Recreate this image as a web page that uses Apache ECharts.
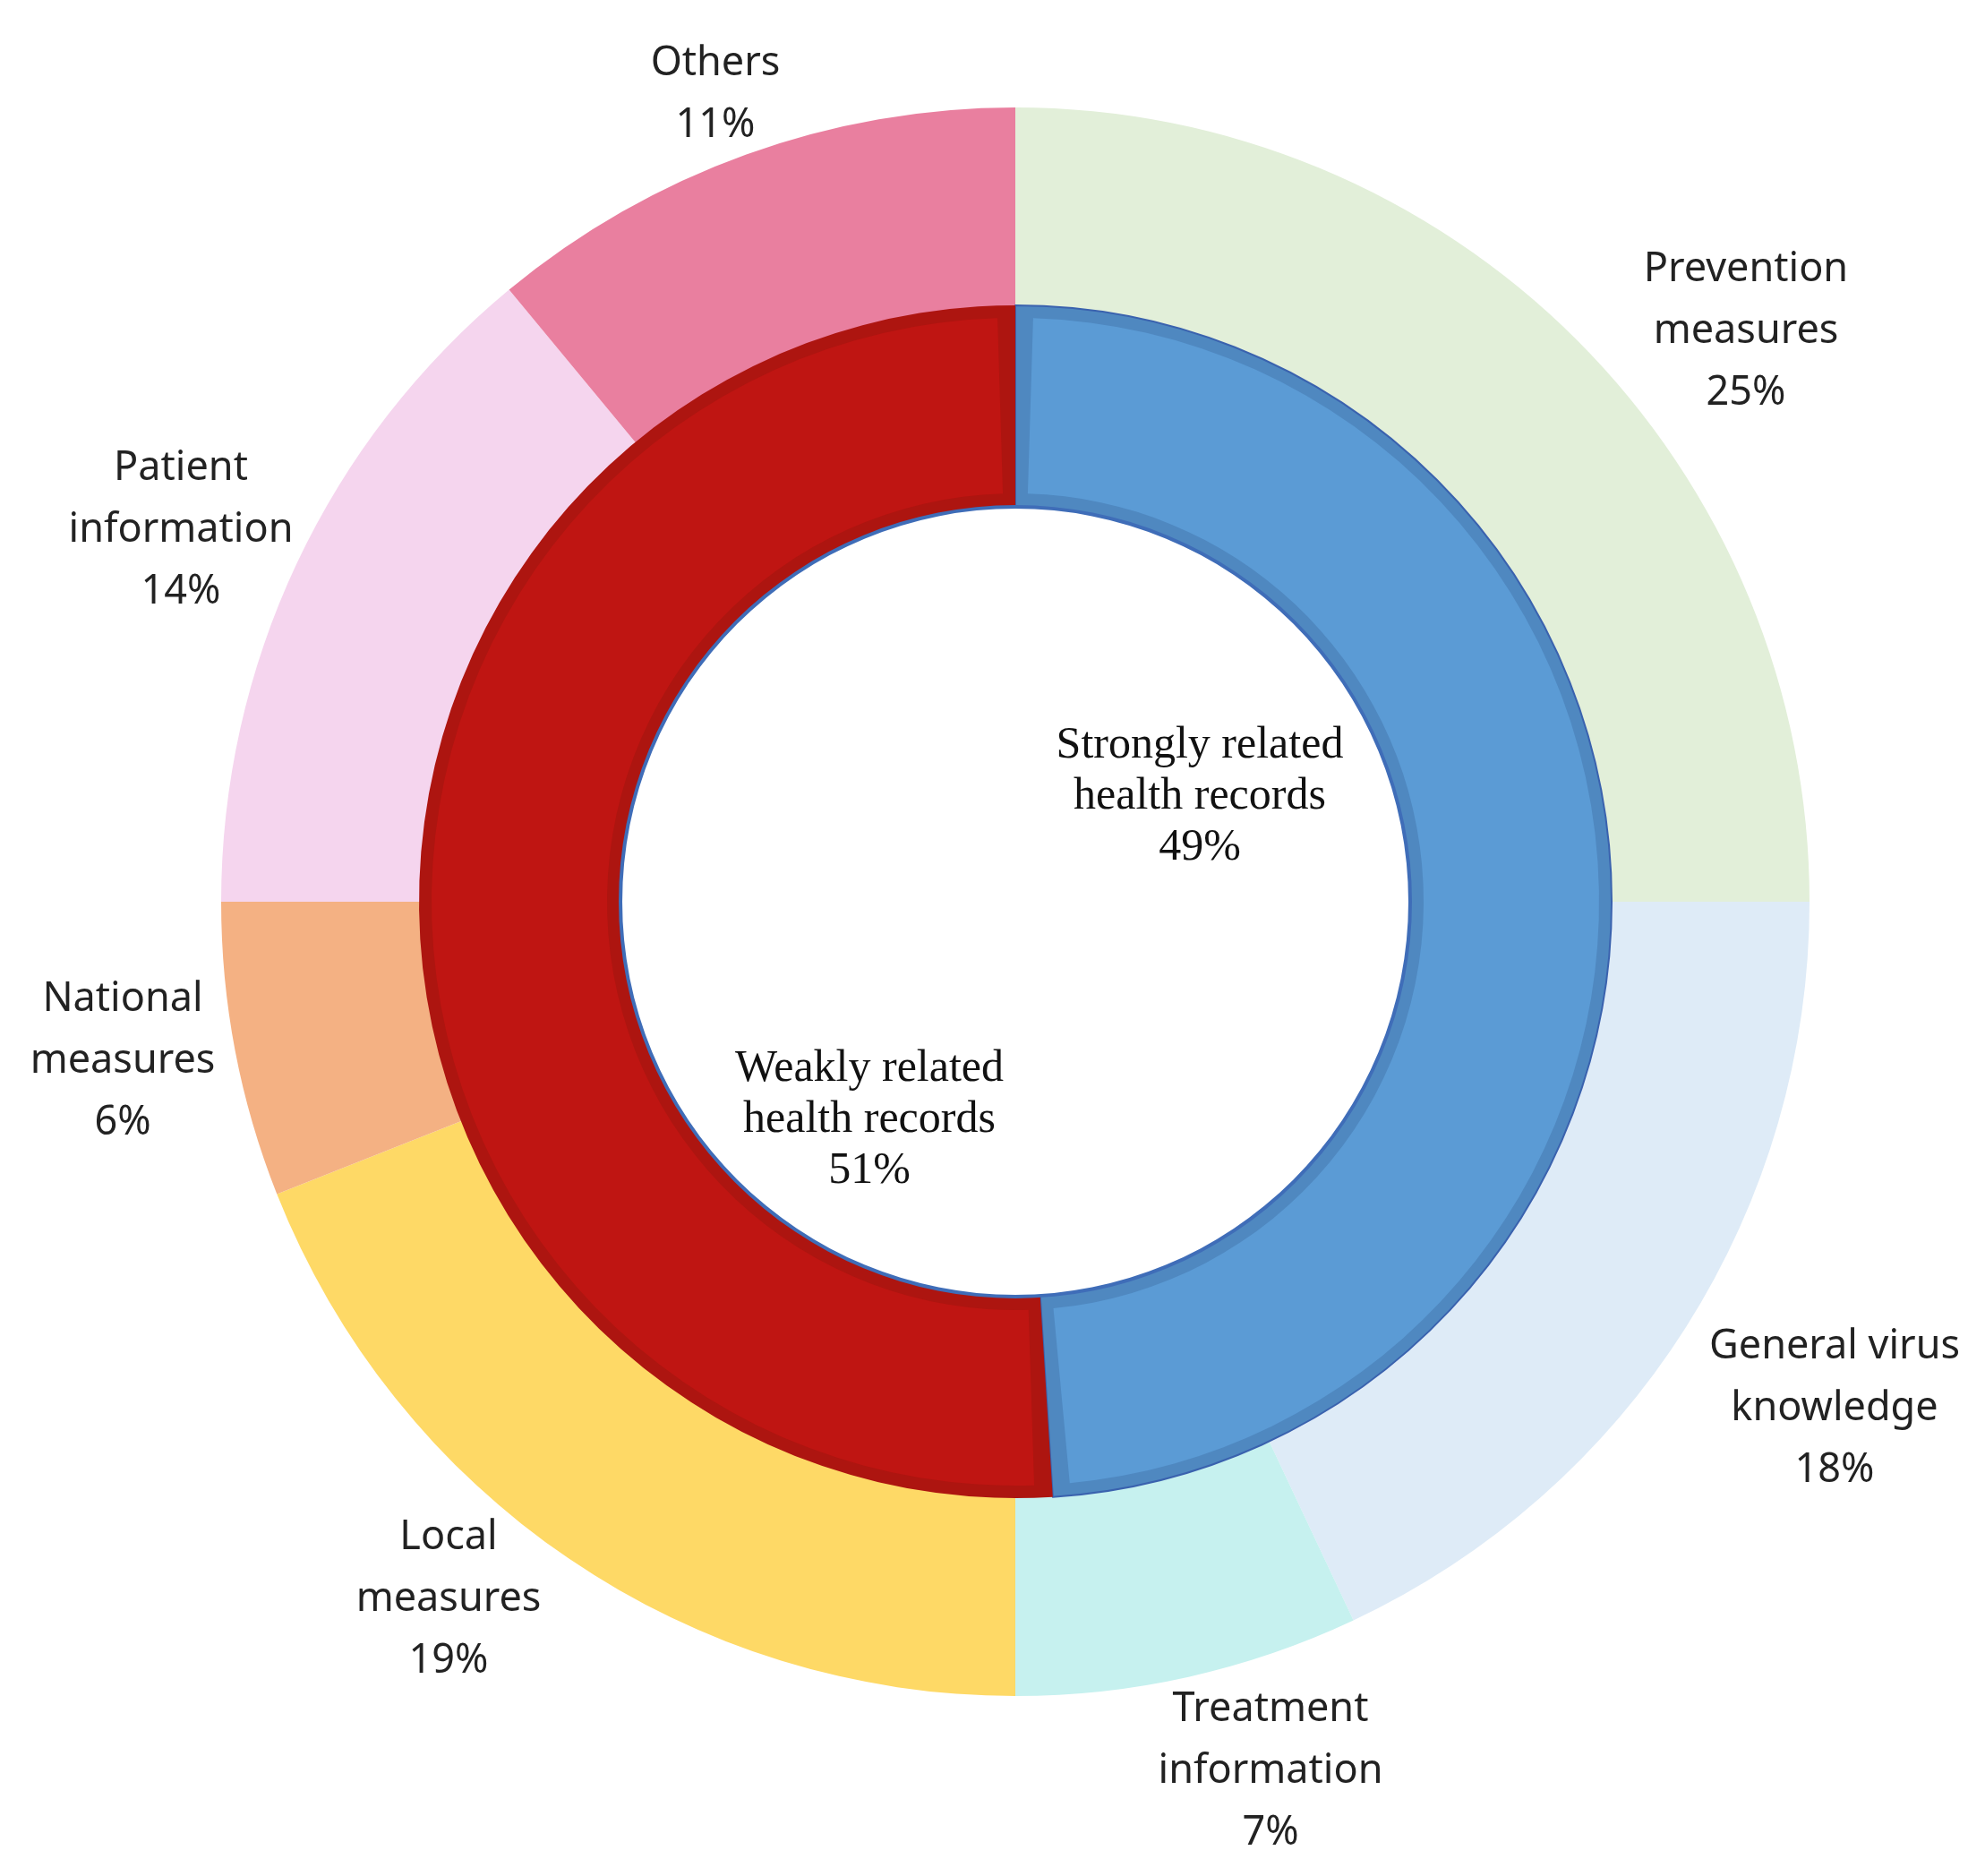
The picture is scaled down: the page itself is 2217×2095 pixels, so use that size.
<!DOCTYPE html>
<html><head><meta charset="utf-8">
<script src="https://cdn.jsdelivr.net/npm/echarts@6/dist/echarts.min.js"></script>
<style>html,body{margin:0;padding:0;background:#fff}#chart{width:2217px;height:2095px}</style>
</head><body><div id="chart"></div>
<script>
// ---- data ----
const innerCategories = ['Strongly related\nhealth records', 'Weakly related\nhealth records'];
const innerValues = [49, 51];
const outerCategories = ['Prevention\nmeasures', 'General virus\nknowledge', 'Treatment\ninformation', 'Local\nmeasures', 'National\nmeasures', 'Patient\ninformation', 'Others'];
const outerValues = [25, 18, 7, 19, 6, 14, 11];

// ---- styles / layout ----
const innerColors = ['#5B9BD5', '#BF1512'];
const innerBandColors = ['#4F88C0', '#AD1510'];
const innerEdgeColors = ['#3A62AE', '#AD1510'];
const outerColors = ['#E2EFD9', '#DEEBF7', '#C6F1EF', '#FED966', '#F4B183', '#F5D5EE', '#E97F9F'];
const CENTER = [1134, 1007];
// label anchor offsets from the pie centre (px)
const outerLabelOffsets = [[816, -637], [915, 566], [285, 971], [-633, 779], [-997, 178], [-932, -415], [-335, -901]];
const innerLabelOffsets = [[206, -117], [-163, 244]];

const chart = echarts.init(document.getElementById('chart'), null, { renderer: 'canvas' });

function layoutFrom(offsets) {
  return function (p) {
    const o = offsets[p.dataIndex];
    return { x: CENTER[0] + o[0], y: CENTER[1] + o[1], align: 'center', verticalAlign: 'middle' };
  };
}

chart.setOption({
  backgroundColor: '#ffffff',
  animation: false,
  series: [
    {
      type: 'pie',
      center: CENTER,
      radius: [665, 887],
      startAngle: 90,
      clockwise: true,
      avoidLabelOverlap: false,
      silent: true,
      itemStyle: { borderWidth: 0 },
      label: {
        show: true,
        position: 'outside',
        formatter: '{b}\n{c}%',
        fontFamily: 'Noto Sans',
        fontSize: 45,
        lineHeight: 69,
        color: '#222222',
        align: 'center'
      },
      labelLine: { show: false },
      labelLayout: layoutFrom(outerLabelOffsets),
      data: outerCategories.map((n, i) => ({ name: n, value: outerValues[i], itemStyle: { color: outerColors[i] } }))
    },
    {
      // darker bevel band under the inner ring
      type: 'pie',
      center: CENTER,
      radius: [441, 666],
      startAngle: 90,
      clockwise: true,
      silent: true,
      label: { show: false },
      labelLine: { show: false },
      data: innerCategories.map((n, i) => ({
        name: n, value: innerValues[i],
        itemStyle: { color: innerBandColors[i], borderColor: innerEdgeColors[i], borderWidth: i === 0 ? 2 : 0 }
      }))
    },
    {
      type: 'pie',
      center: CENTER,
      radius: [456, 652],
      startAngle: 90,
      clockwise: true,
      padAngle: 3.5,
      avoidLabelOverlap: false,
      silent: true,
      label: {
        show: true,
        position: 'inside',
        formatter: '{b}\n{c}%',
        fontFamily: 'Liberation Serif',
        fontSize: 50,
        lineHeight: 57,
        color: '#111111',
        align: 'center'
      },
      labelLine: { show: false },
      labelLayout: layoutFrom(innerLabelOffsets),
      data: innerCategories.map((n, i) => ({
        name: n, value: innerValues[i],
        itemStyle: { color: innerColors[i], borderWidth: 0 }
      }))
    },
    {
      type: 'pie',
      center: CENTER,
      radius: [439, 443],
      silent: true,
      label: { show: false },
      labelLine: { show: false },
      itemStyle: { color: '#3F6DB8', borderWidth: 0 },
      data: [{ name: 'edge', value: 1 }]
    }
  ]
});
</script>
</body></html>
